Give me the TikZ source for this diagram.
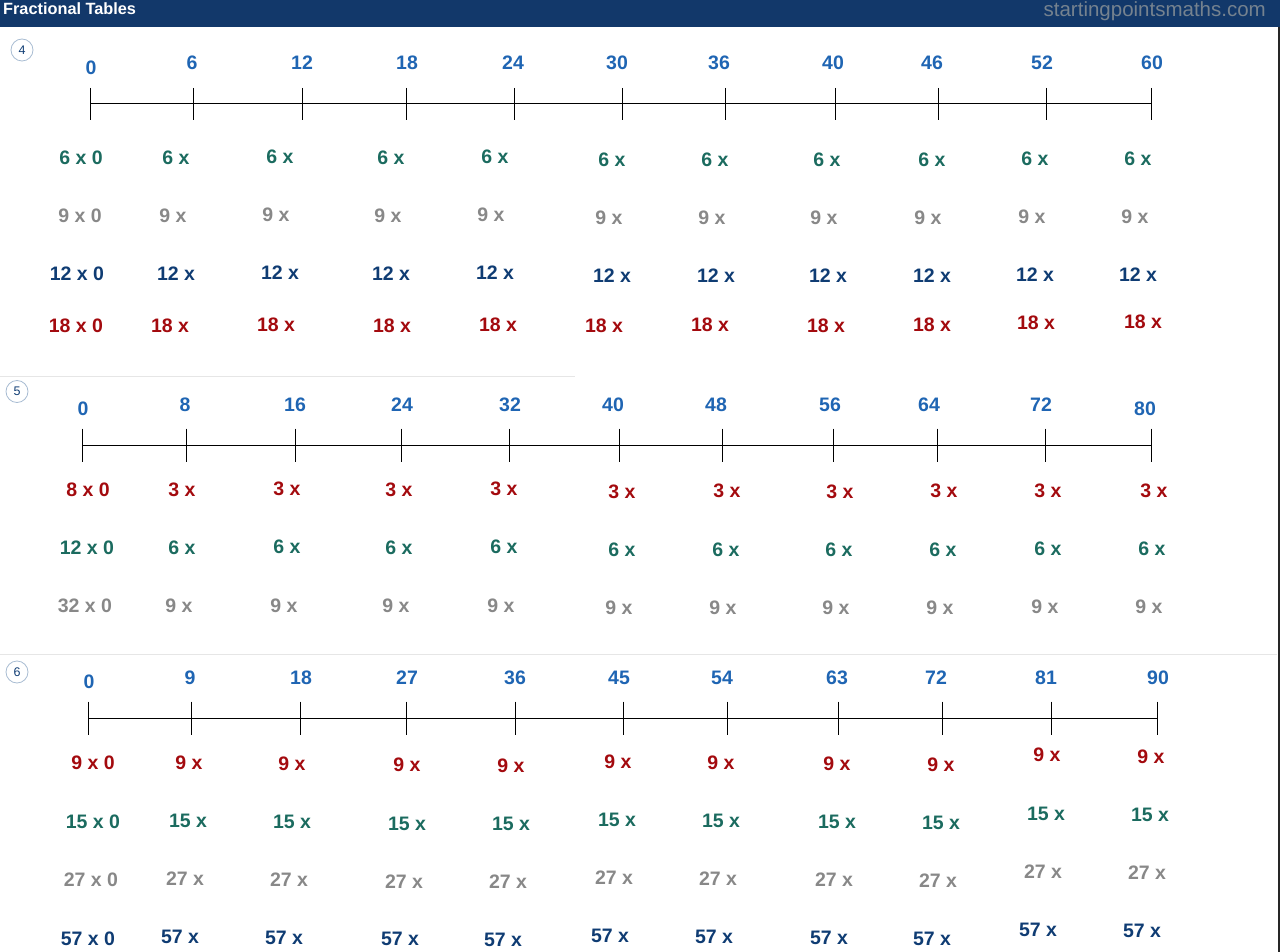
\documentclass[tikz,border=0pt]{standalone}
\usepackage{fontspec}
\setmainfont{Liberation Sans}
\usepackage{xcolor}
\usepackage{tikz}
\usetikzlibrary{positioning}

\definecolor{headblue}{HTML}{12386A}
\definecolor{sitegrey}{HTML}{75828F}
\definecolor{numblue}{HTML}{1F65B3}
\definecolor{tealrow}{HTML}{1B6B5F}
\definecolor{greyrow}{HTML}{888888}
\definecolor{navyrow}{HTML}{0F3C73}
\definecolor{redrow}{HTML}{A30A0E}
\definecolor{badgeline}{HTML}{A8BCD2}
\definecolor{sepgrey}{HTML}{E6E6E6}

\begin{document}
\begin{tikzpicture}[x=1pt, y=-1pt,
    num/.style={font=\bfseries\fontsize{19.5}{22}\selectfont, text=numblue, inner sep=0, yshift=-0.8pt},
    lab/.style={font=\bfseries\fontsize{19.5}{22}\selectfont, inner sep=0, yshift=-0.8pt},
    badge/.style={circle, draw=badgeline, line width=0.8pt, minimum size=22pt, inner sep=0,
                  font=\fontsize{12.5}{14}\selectfont, text=navyrow},
    axisline/.style={line width=1pt, black},
    tickmark/.style={line width=1pt, black},
    sepline/.style={line width=1.2pt, sepgrey}]
    \useasboundingbox (0,0) rectangle (1280,952);

    % header bar
    \fill[headblue] (0,0) rectangle (1280,27);
    \node[anchor=west, inner sep=0, text=white, font=\bfseries\fontsize{16.3}{18}\selectfont] (title) at (3,9) {Fractional Tables};
    \node[anchor=base east, inner sep=0, text=sitegrey, font=\fontsize{20.5}{22}\selectfont] (site) at (1266,17) {startingpointsmaths.com};
    \draw[line width=1.5pt, black!85] (1278.8,27) -- (1278.8,952);

    % ---- question 4 ----
    \node[badge] (q4) at (22,50) {4};
    \foreach \v/\lx/\ly/\tx [count=\i] in {0/91/67/90, 6/192/62/193, 12/302/62/302, 18/407/62/406,
        24/513/62/514, 30/617/62/622, 36/719/62/725, 40/833/62/835, 46/932/62/938,
        52/1042/62/1046, 60/1152/62/1151} {
        \node[num] (v4-\i) at (\lx,\ly) {\v};
        \coordinate (k4-\i) at (\tx,104);
        \draw[tickmark] ([yshift=16pt]k4-\i) -- ([yshift=-16pt]k4-\i);
    }
    \draw[axisline] (k4-1) -- (k4-11);

    \foreach \lx/\ly [count=\i] in {81/157, 176/157, 280/156, 391/157, 495/156, 612/159,
        715/159, 827/159, 932/159, 1035/158, 1138/158}
        \node[lab, text=tealrow] (a4-\i) at (\lx,\ly) {\ifnum\i=1 6 x 0\else 6 x\fi};
    \foreach \lx/\ly [count=\i] in {80/215, 173/215, 276/214, 388/215, 491/214, 609/217,
        712/217, 824/217, 928/217, 1032/216, 1135/216}
        \node[lab, text=greyrow] (b4-\i) at (\lx,\ly) {\ifnum\i=1 9 x 0\else 9 x\fi};
    \foreach \lx/\ly [count=\i] in {77/273, 176/273, 280/272, 391/273, 495/272, 612/275,
        716/275, 828/275, 932/275, 1035/274, 1138/274}
        \node[lab, text=navyrow] (c4-\i) at (\lx,\ly) {\ifnum\i=1 12 x 0\else 12 x\fi};
    \foreach \lx/\ly [count=\i] in {76/325, 170/325, 276/324, 392/325, 498/324, 604/325,
        710/324, 826/325, 932/324, 1036/322, 1143/321}
        \node[lab, text=redrow] (d4-\i) at (\lx,\ly) {\ifnum\i=1 18 x 0\else 18 x\fi};

    % ---- question 5 ----
    \draw[sepline] (0,376.5) -- (575,376.5);
    \node[badge] (q5) at (17,391.5) {5};
    \foreach \v/\lx/\ly/\tx [count=\i] in {0/83/408/82, 8/185/404/186, 16/295/404/295, 24/402/404/401,
        32/510/404/509, 40/613/404/619, 48/716/404/722, 56/830/404/833, 64/929/404/937,
        72/1041/404/1045, 80/1145/408/1151} {
        \node[num] (v5-\i) at (\lx,\ly) {\v};
        \coordinate (k5-\i) at (\tx,445);
        \draw[tickmark] ([yshift=16.5pt]k5-\i) -- ([yshift=-16.5pt]k5-\i);
    }
    \draw[axisline] (k5-1) -- (k5-11);

    \foreach \lx/\ly [count=\i] in {88/489, 182/489, 287/488, 399/489, 504/488, 622/491,
        727/490, 840/491, 944/490, 1048/490, 1154/490}
        \node[lab, text=redrow] (a5-\i) at (\lx,\ly) {\ifnum\i=1 8 x 0\else 3 x\fi};
    \foreach \lx/\ly [count=\i] in {87/547, 182/547, 287/546, 399/547, 504/546, 622/549,
        726/549, 839/549, 943/549, 1048/548, 1152/548}
        \node[lab, text=tealrow] (b5-\i) at (\lx,\ly) {\ifnum\i=1 12 x 0\else 6 x\fi};
    \foreach \lx/\ly [count=\i] in {85/605, 179/605, 284/605, 396/605, 501/605, 619/607,
        723/607, 836/607, 940/607, 1045/606, 1149/606}
        \node[lab, text=greyrow] (c5-\i) at (\lx,\ly) {\ifnum\i=1 32 x 0\else 9 x\fi};

    % ---- question 6 ----
    \draw[sepline] (0,654.5) -- (1277,654.5);
    \node[badge] (q6) at (17,672) {6};
    \foreach \v/\lx/\ly/\tx [count=\i] in {0/89/681/88, 9/190/677/191, 18/301/677/300, 27/407/677/406,
        36/515/677/515, 45/619/677/623, 54/722/677/727, 63/837/677/838, 72/936/677/942,
        81/1046/677/1051, 90/1158/677/1157} {
        \node[num] (v6-\i) at (\lx,\ly) {\v};
        \coordinate (k6-\i) at (\tx,718);
        \draw[tickmark] ([yshift=16.5pt]k6-\i) -- ([yshift=-16.5pt]k6-\i);
    }
    \draw[axisline] (k6-1) -- (k6-11);

    \foreach \lx/\ly [count=\i] in {93/762, 189/762, 292/763, 407/764, 511/765, 618/761,
        721/762, 837/763, 941/764, 1047/754, 1151/756}
        \node[lab, text=redrow] (a6-\i) at (\lx,\ly) {\ifnum\i=1 9 x 0\else 9 x\fi};
    \foreach \lx/\ly [count=\i] in {93/821, 188/820, 292/821, 407/823, 511/823, 617/819,
        721/820, 837/821, 941/822, 1046/813, 1150/814}
        \node[lab, text=tealrow] (b6-\i) at (\lx,\ly) {\ifnum\i=1 15 x 0\else 15 x\fi};
    \foreach \lx/\ly [count=\i] in {91/879, 185/878, 289/879, 404/881, 508/881, 614/877,
        718/878, 834/879, 938/880, 1043/871, 1147/872}
        \node[lab, text=greyrow] (c6-\i) at (\lx,\ly) {\ifnum\i=1 27 x 0\else 27 x\fi};
    \foreach \lx/\ly [count=\i] in {88/938, 180/936, 284/937, 400/938, 503/939, 610/935,
        714/936, 829/937, 932/938, 1038/929, 1142/930}
        \node[lab, text=navyrow] (d6-\i) at (\lx,\ly) {\ifnum\i=1 57 x 0\else 57 x\fi};
\end{tikzpicture}
\end{document}
